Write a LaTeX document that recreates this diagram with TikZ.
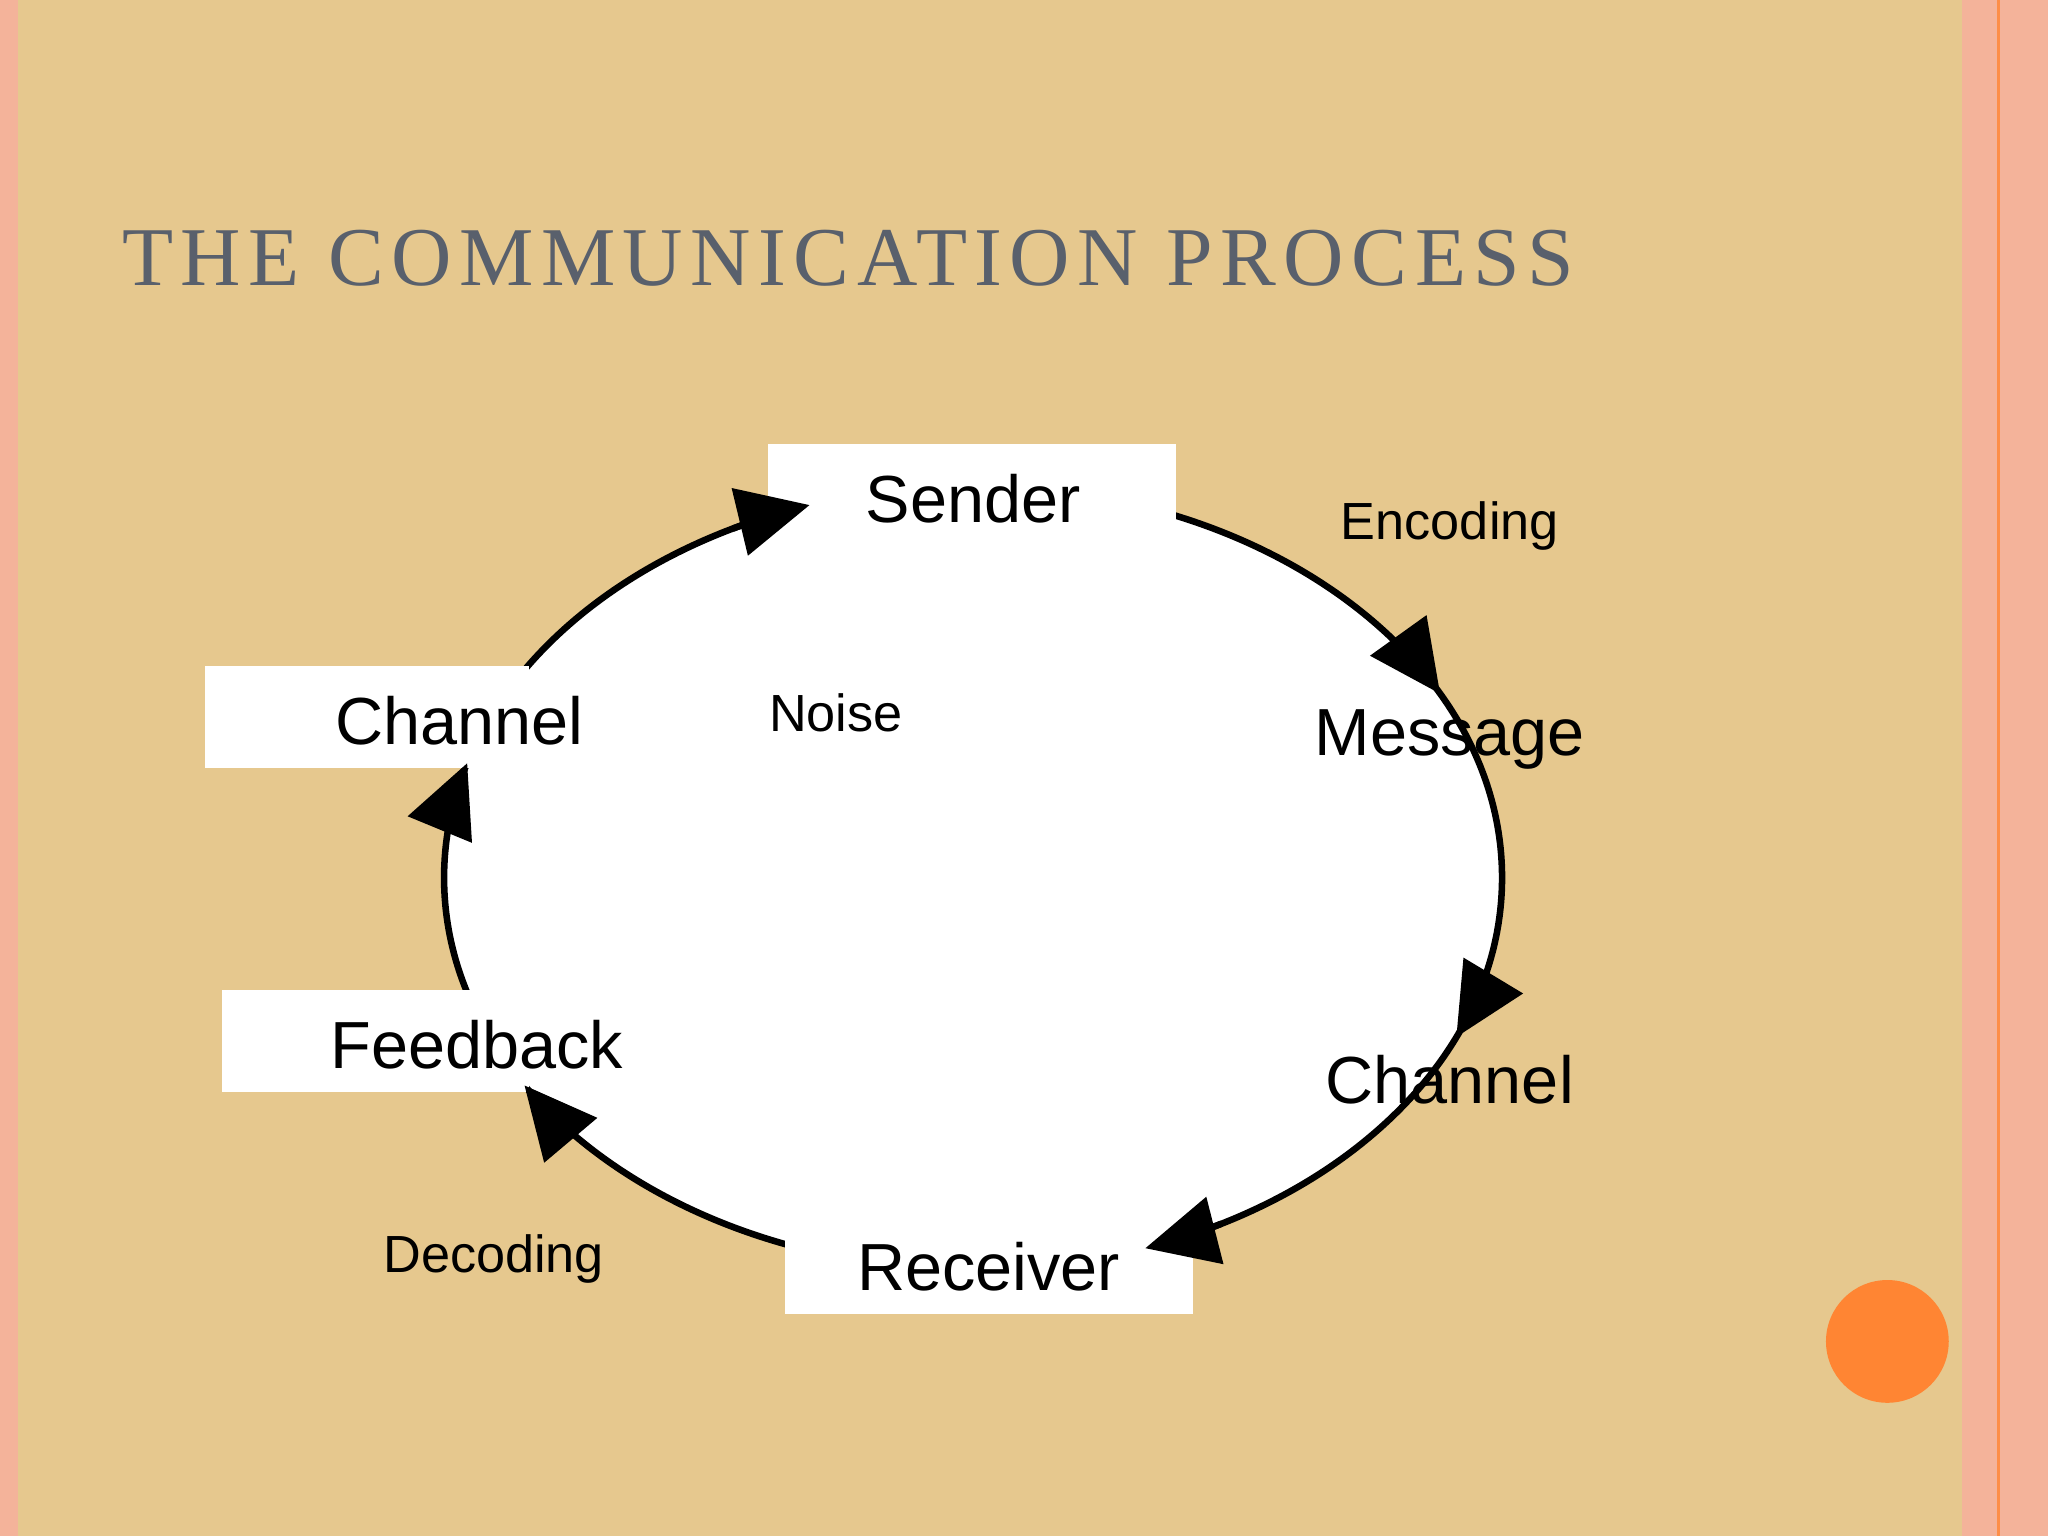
\documentclass[tikz,border=0pt]{standalone}
\usepackage{fontspec}
\setmainfont{Liberation Sans}
\newfontfamily\titlefont[LetterSpace=9]{Liberation Serif}
\usetikzlibrary{arrows.meta}
\definecolor{bg}{HTML}{E6C88E}
\definecolor{pinkb}{HTML}{F4B39A}
\definecolor{titlec}{HTML}{59606C}
\definecolor{orng}{HTML}{FF8533}
\begin{document}
\begin{tikzpicture}[x=1pt,y=-1pt,
  box/.style={fill=white,draw=none},
  big/.style={font=\fontsize{51}{58}\selectfont,text=black},
  med/.style={font=\fontsize{40}{48}\selectfont,text=black},
  arr/.style={line width=5pt,-{Triangle[length=55pt,width=52pt]}}]
\useasboundingbox (0,0) rectangle (1568,1176);
\fill[bg] (0,0) rectangle (1568,1176);
\fill[pinkb] (0,0) rectangle (14,1176);
\fill[pinkb] (1502,0) rectangle (1568,1176);
\draw[orng!80!pinkb,line width=2pt] (1530,0) -- (1530,1176);
\node[text=titlec,font=\titlefont\fontsize{64}{70}\selectfont,anchor=west] (title) at (90,198) {THE COMMUNICATION PROCESS};
\coordinate (c) at (745,672);
\draw[fill=white,line width=5pt] (c) ellipse [x radius=405, y radius=300];
\fill[box] (588,340) rectangle (900,408);
\fill[box] (157,510) rectangle (405,588);
\fill[box] (170,758) rectangle (405,836);
\fill[box] (601,948) rectangle (913,1006);
\foreach \a in {-108,-28,24,71,148,197}{
  \draw[arr] (c) ++(\a-9:405 and 300) arc[start angle=\a-9, end angle=\a, x radius=405, y radius=300];
}
\node[big] (sender) at (745,382) {Sender};
\node[med] (enc) at (1110,403) {Encoding};
\node[big] (msg) at (1110,566) {Message};
\node[med] (noise) at (640,546) {Noise};
\node[big] (chl) at (352,552) {Channel};
\node[big] (fb) at (365,800) {Feedback};
\node[big] (chr) at (1110,827) {Channel};
\node[big] (recv) at (757,970) {Receiver};
\node[med] (dec) at (378,964) {Decoding};
\fill[orng] (1445,1027) circle (47);
\end{tikzpicture}
\end{document}
